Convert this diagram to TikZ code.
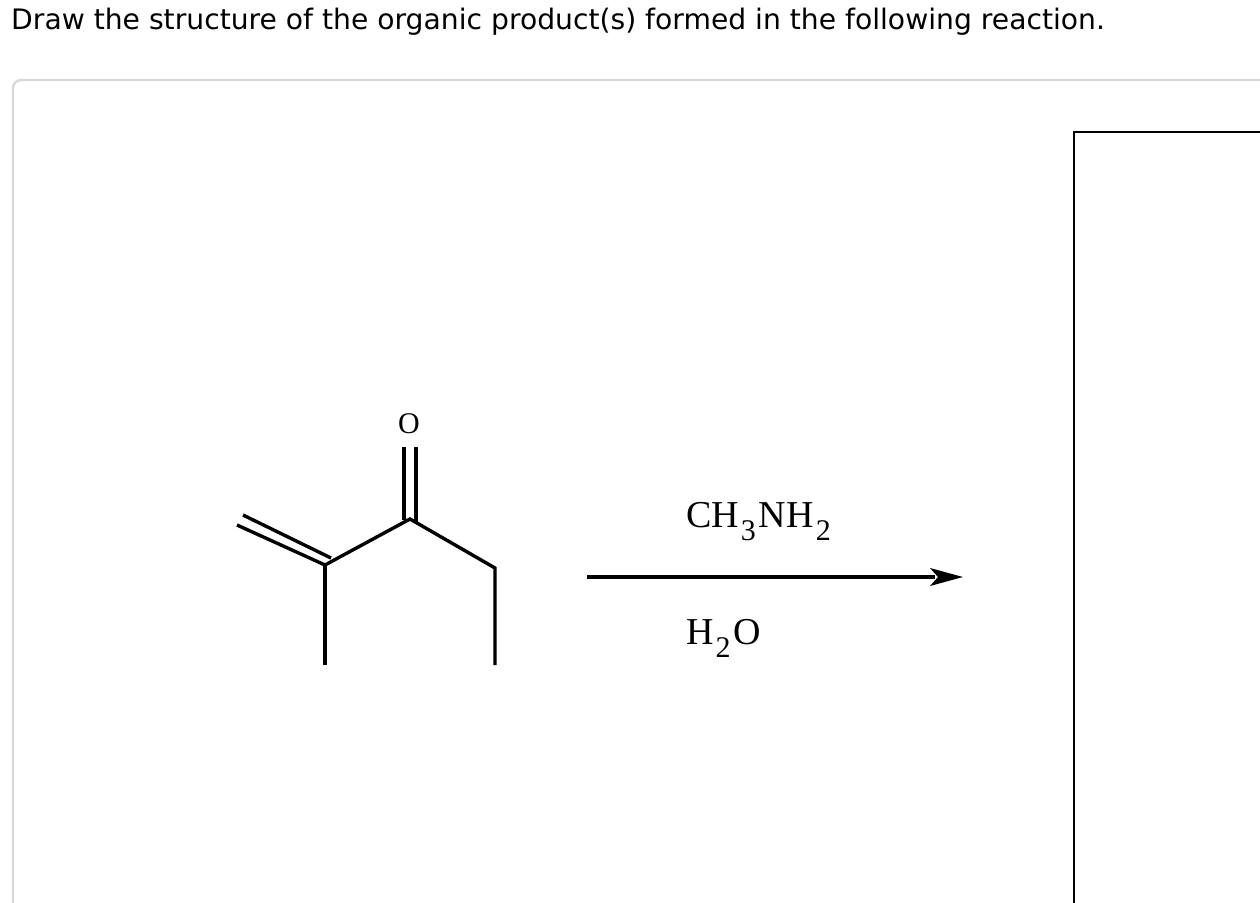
\documentclass[tikz,border=0pt]{standalone}
\usepackage{fontspec}
\setmainfont{Liberation Serif}
\newfontfamily\titlefont{DejaVu Sans}
\newcommand{\sbs}[1]{\kern2pt\raisebox{-13pt}{\fontsize{30}{30}\selectfont #1}\kern3pt}
\begin{document}
\begin{tikzpicture}[x=1pt,y=-1pt,
  bond/.style={line width=3.4pt,line cap=butt},
  lbl/.style={inner sep=0pt,font=\fontsize{38}{38}\selectfont}]
\useasboundingbox (0,0) rectangle (1260,902);
\fill[white] (0,0) rectangle (1260,902);
\node[anchor=west,inner sep=0pt,font=\titlefont\fontsize{28.2}{28.2}\selectfont] (title) at (11,22) {Draw the structure of the organic product(s) formed in the following reaction.};
\draw[color=black!15,line width=2.4pt,rounded corners=8pt] (13,905) -- (13,80) -- (1270,80);
\coordinate (c1a) at (243,515);
\coordinate (c1b) at (237,525);
\coordinate (c2) at (325,565);
\coordinate (c2b) at (331,558);
\coordinate (me) at (325,665);
\coordinate (c3) at (410,519);
\coordinate (c4) at (495,568);
\coordinate (c5) at (495,665);
\coordinate (o1) at (404,447);
\coordinate (o2) at (416,447);
\coordinate (o1e) at (404,520);
\coordinate (o2e) at (416,523);
\node[inner sep=0pt,font=\fontsize{30}{30}\selectfont] (O) at (409,424) {O};
\draw[bond] (c1b) -- (c2);
\draw[bond] (c1a) -- (c2b);
\draw[bond] (c2) -- (me);
\draw[bond,line join=miter] (c2) -- (c3) -- (c4) -- (c5);
\draw[bond] (o1) -- (o1e);
\draw[bond] (o2) -- (o2e);
\coordinate (a1) at (587,577);
\coordinate (a2) at (963,577);
\draw[line width=3.4pt] (a1) -- (935,577);
\fill (a2) -- (930,568) -- (938,577) -- (930,586) -- cycle;
\node[lbl,anchor=west] (r1) at (686,522) {CH\sbs{3}NH\sbs{2}};
\node[lbl,anchor=west] (r2) at (686,638) {H\sbs{2}O};
\draw[line width=2.6pt] (1074,905) -- (1074,132) -- (1265,132);
\end{tikzpicture}
\end{document}
